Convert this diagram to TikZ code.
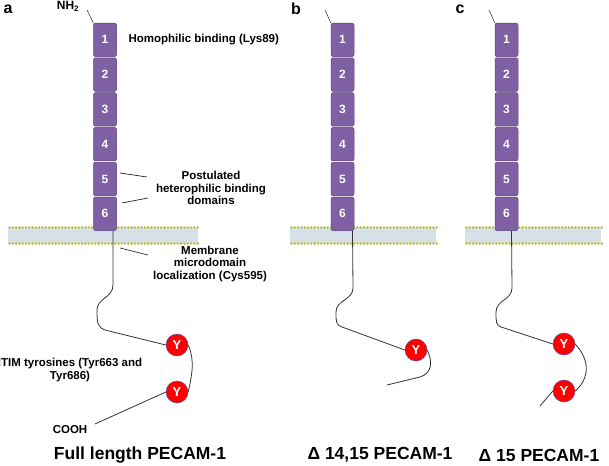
\documentclass[tikz,border=0pt]{standalone}
\usepackage{fontspec}
\setmainfont{Liberation Sans}
\begin{document}
\begin{tikzpicture}[x=1pt,y=-1pt,
  dom/.style={draw=dompurple!70!black, line width=0.5pt, fill=dompurple, rounded corners=2pt, minimum width=23pt, minimum height=33.5pt, inner sep=0pt, text=white, font=\bfseries\fontsize{12}{12}\selectfont},
  tyr/.style={circle, fill=red, draw=blue!40!gray, line width=0.4pt, minimum size=22pt, inner sep=0pt, text=white, font=\bfseries\fontsize{13}{13}\selectfont},
  lab/.style={font=\bfseries\fontsize{11.5}{12.5}\selectfont, align=center},
  tail/.style={draw=black!80, line width=0.8pt},
  ptr/.style={draw=black!85, line width=0.7pt},
  ttl/.style={font=\bfseries\fontsize{17.5}{17.5}\selectfont}]
\definecolor{dompurple}{RGB}{128,96,164}
\definecolor{lipid}{RGB}{190,190,40}
\definecolor{memb}{RGB}{214,226,236}
\useasboundingbox (0,0) rectangle (609,465);
% membranes
\foreach \x/\w in {8/190, 290/146, 465/136}{
  \fill[memb] (\x,228) rectangle (\x+\w,243);
  \foreach \yy in {231,234,237,240}{\draw[white!70!gray, line width=0.3pt, dash pattern=on 2pt off 1pt] (\x,\yy) -- (\x+\w,\yy);}
  \pgfmathtruncatemacro{\n}{\w/3.3}
  \foreach \i in {0,...,\n}{
    \fill[lipid] (\x+1.5+\i*3.3,227.5) circle (1.4pt);
    \fill[lipid] (\x+1.5+\i*3.3,243.5) circle (1.4pt);}
}
% domain columns
\foreach \c/\x in {a/105, b/342.5, c/506.5}{
  \foreach \i in {1,...,6}{
    \node[dom] (\c\i) at (\x, 5+\i*34.8) {\i};
  }
}
% N-terminal ticks
\coordinate (na) at (87,10); \draw[ptr, line width=0.5pt] (na) -- (a1.north west);
\coordinate (nb) at (325,10); \draw[ptr, line width=0.5pt] (nb) -- (b1.north west);
\coordinate (nc) at (489,10); \draw[ptr, line width=0.5pt] (nc) -- (c1.north west);
\node[font=\bfseries\fontsize{12}{12}\selectfont] (nh2) at (68,6) {NH\textsubscript{2}};
% panel letters
\node[font=\bfseries\fontsize{16}{16}\selectfont] (la) at (8,9) {a};
\node[font=\bfseries\fontsize{16}{16}\selectfont] (lb) at (296,9) {b};
\node[font=\bfseries\fontsize{16}{16}\selectfont] (lc) at (460,9) {c};
% Tyr circles
\node[tyr] (ya1) at (177,345) {Y};
\node[tyr] (ya2) at (177,392) {Y};
\node[tyr] (yb1) at (416,350) {Y};
\node[tyr] (yc1) at (564,344) {Y};
\node[tyr] (yc2) at (564,391) {Y};
\coordinate (ea) at (95,424);
\coordinate (eb) at (387,385);
\coordinate (ec) at (540,406);
% tails
\draw[tail] (a6.south) ++(8,0) -- (113,285) .. controls (113,298) and (97,298) .. (97,310) .. controls (97,325) and (98,327) .. (105,330) -- (ya1.west);
\draw[tail] (ya1.east) .. controls (195,360) and (192,375) .. (ya2.east);
\draw[tail] (ya2.west) -- (ea);
\draw[tail] (b6.south) ++(10,0) -- (353,288) .. controls (353,300) and (336,300) .. (336,312) .. controls (336,322) and (336,325) .. (342,327) -- (yb1.west);
\draw[tail] (yb1.east) .. controls (433,362) and (432,373) .. (420,377) -- (eb);
\draw[tail] (c6.south) ++(5,0) -- (512,288) .. controls (512,300) and (496,300) .. (496,312) .. controls (496,322) and (496,325) .. (501,327) -- (yc1.west);
\draw[tail] (yc1.east) .. controls (590,360) and (590,378) .. (yc2.east);
\draw[tail] (yc2.west) -- (ec);
% labels
\node[lab, anchor=west] (homo) at (125,40) {Homophilic binding (Lys89)};
\node[lab] (hetero) at (211,188) {Postulated\\heterophilic binding\\domains};
\draw[ptr] (147,177) -- (120,173);
\draw[ptr] (148,198) -- (122,203);
\node[lab] (mem) at (210,264) {Membrane\\microdomain\\localization (Cys595)};
\draw[ptr] (148,255) -- (120,248);
\node[lab] (itim) at (70,370) {ITIM tyrosines (Tyr663 and\\Tyr686)};
\node[lab] (cooh) at (70,430) {COOH};
% titles
\node[ttl] (ta) at (140,455) {Full length PECAM-1};
\node[ttl] (tb) at (380,455) {Δ 14,15 PECAM-1};
\node[ttl] (tc) at (539,455) {Δ 15 PECAM-1};
\end{tikzpicture}
\end{document}
